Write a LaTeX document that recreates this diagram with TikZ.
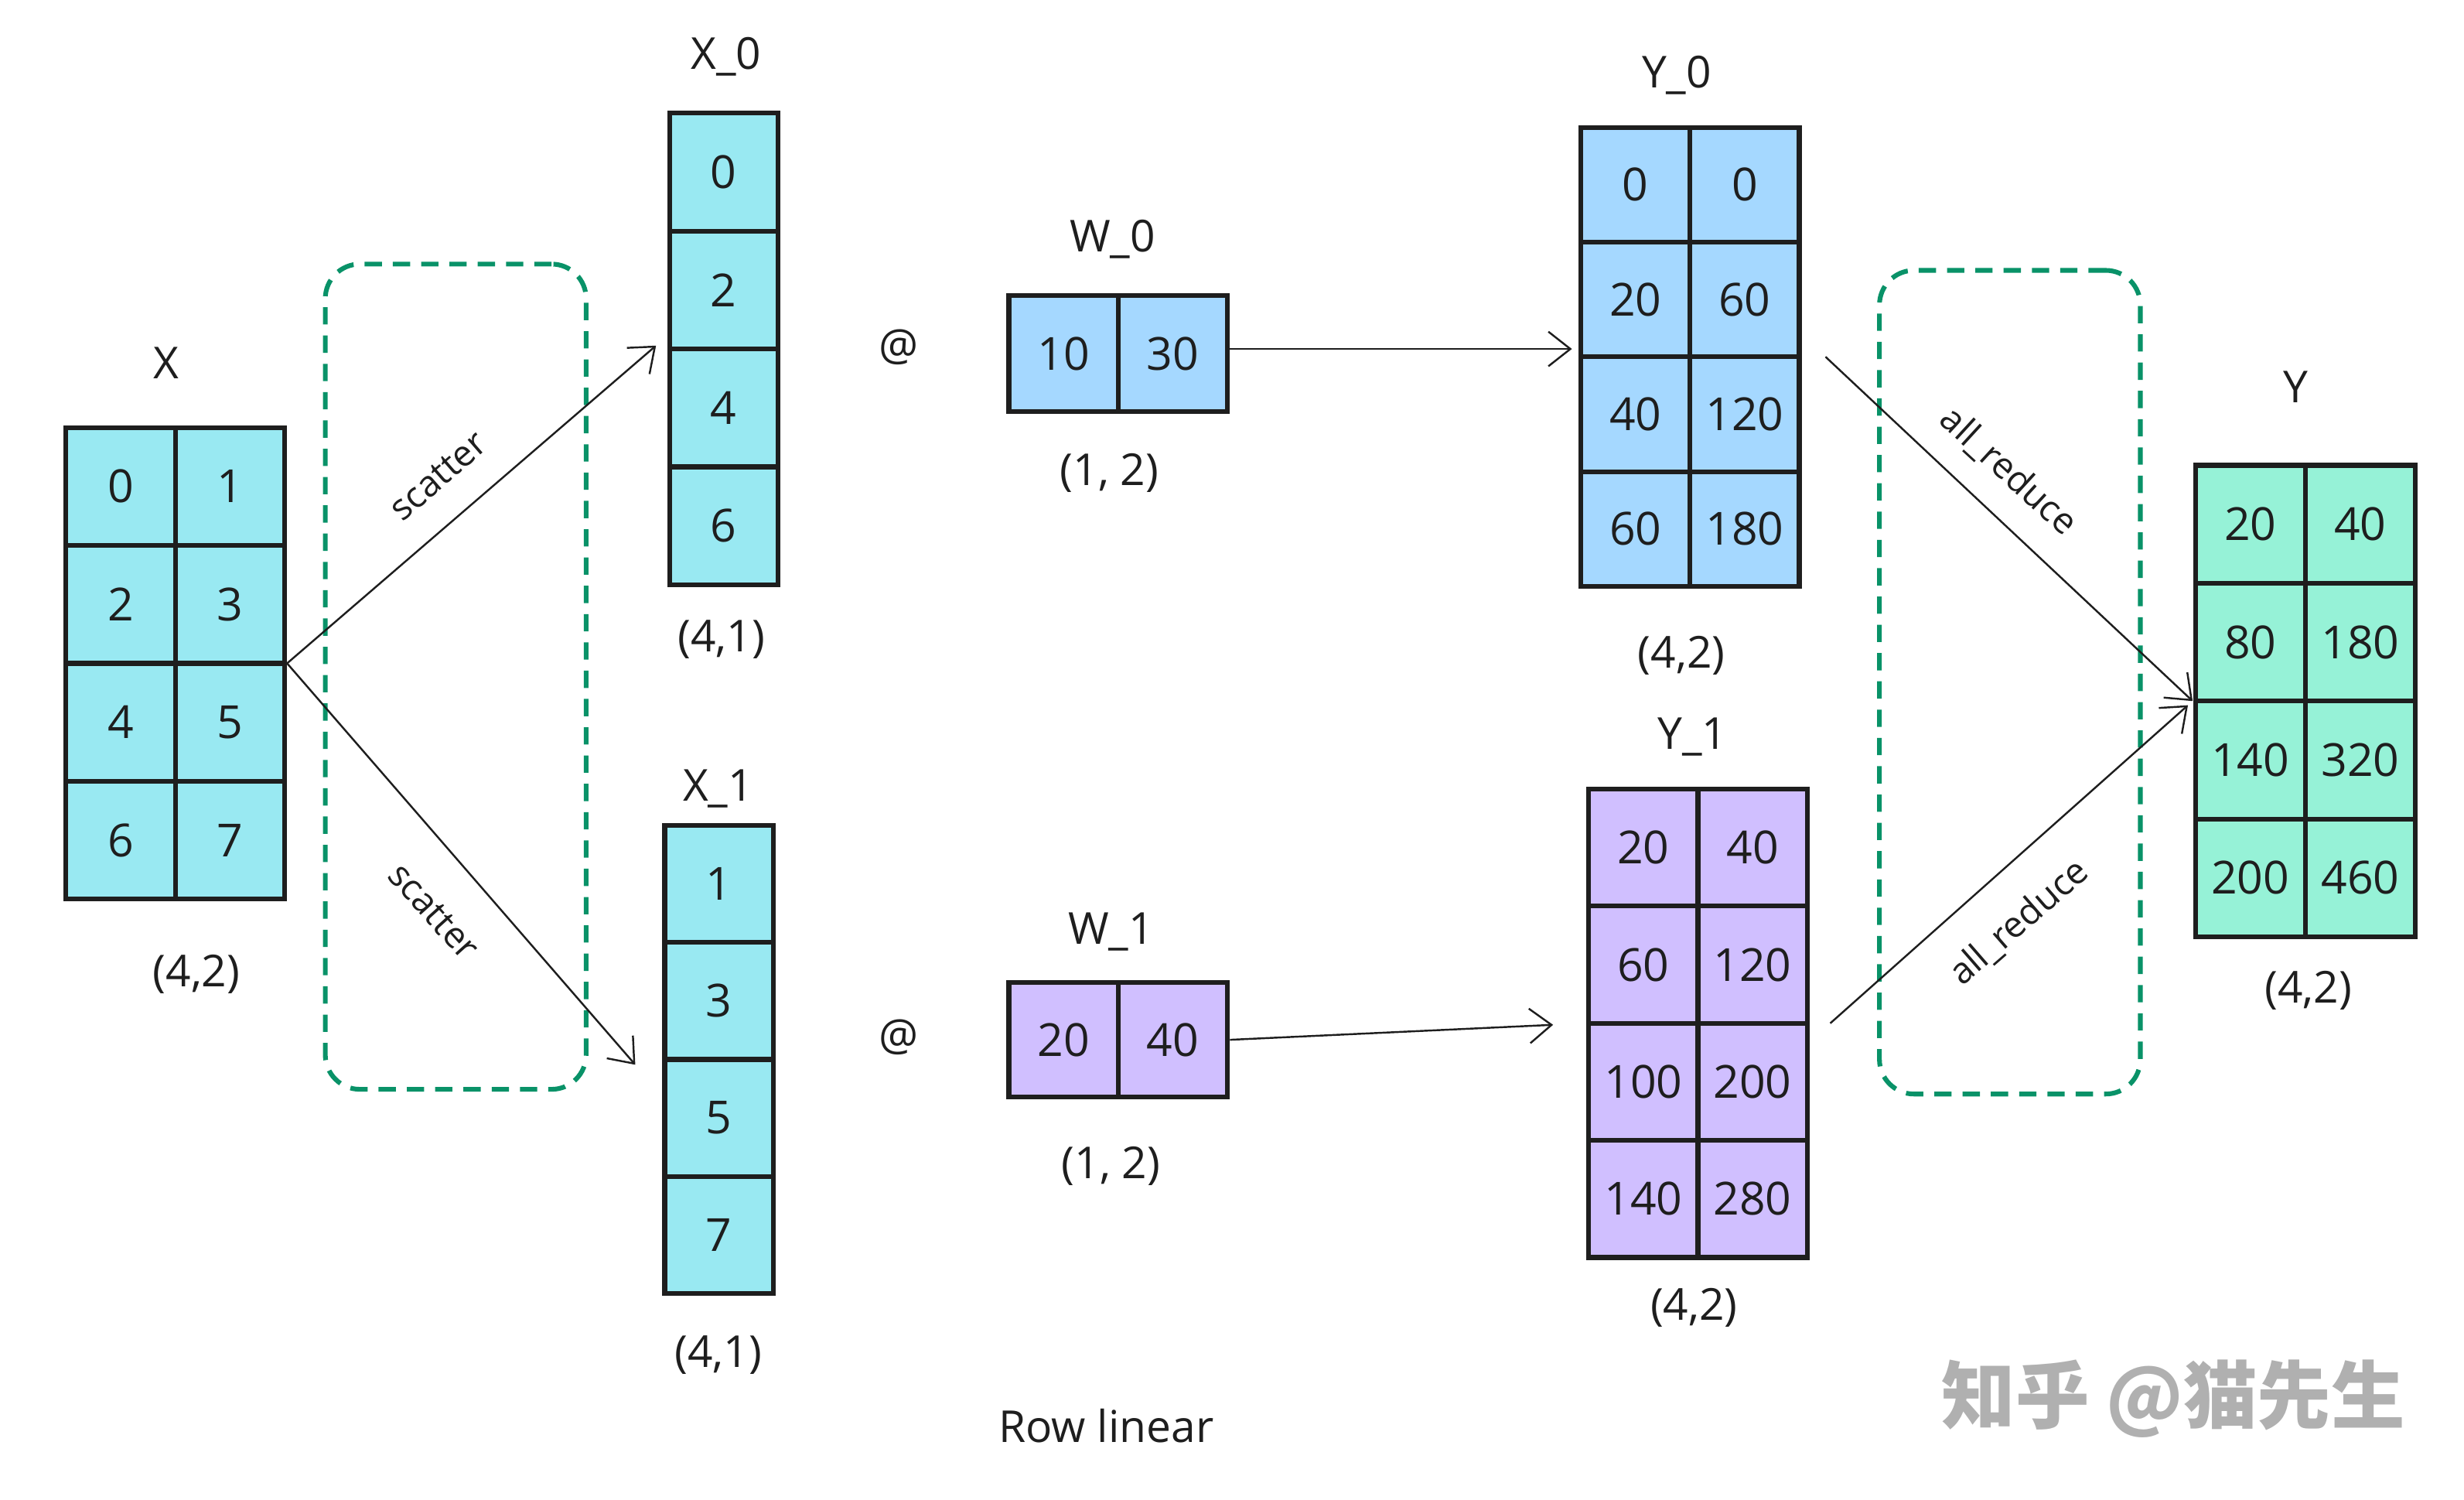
\documentclass[tikz,border=0pt]{standalone}
\usepackage{fontspec}
\setmainfont{Open Sans}
\newfontfamily\cjkwm{Noto Sans CJK SC}
\usetikzlibrary{arrows.meta,fit}
\definecolor{ink}{HTML}{1E1E1E}
\definecolor{cyanf}{HTML}{99E9F2}
\definecolor{bluef}{HTML}{A5D8FF}
\definecolor{violetf}{HTML}{D0BFFF}
\definecolor{mintf}{HTML}{96F2D7}
\definecolor{dashgreen}{HTML}{099268}
\definecolor{wmgray}{HTML}{B0B0B0}
\tikzset{
  cell/.style={draw=ink, line width=3pt, text=ink, inner sep=0pt,
    font=\fontsize{29}{32}\selectfont},
  lbl/.style={text=ink, inner sep=0pt, font=\fontsize{28}{32}\selectfont},
  rlbl/.style={text=ink, inner sep=0pt, font=\fontsize{23}{26}\selectfont},
  arr/.style={draw=ink, line width=1.2pt, -{Straight Barb[length=14pt,width=22pt]}},
  dbox/.style={draw=dashgreen, line width=3pt, dash pattern=on 11pt off 7pt,
    rounded corners=22pt, inner sep=0pt},
  wrap/.style={inner sep=0pt, draw=none},
}
\begin{document}
\begin{tikzpicture}[x=1pt,y=-1pt]
\useasboundingbox (0,0) rectangle (1568,953.8);

% ---------- X ----------
\foreach \a/\b [count=\i from 0] in {0/1,2/3,4/5,6/7}{
  \node[cell, fill=cyanf, minimum width=69.5pt, minimum height=75pt] (X-\i-0) at (76.75,{309.5+75*\i}) {\a};
  \node[cell, fill=cyanf, minimum width=69.5pt, minimum height=75pt] (X-\i-1) at (146.25,{309.5+75*\i}) {\b};
}
\node[wrap, fit=(X-0-0)(X-3-1)] (X) {};
\node[lbl] (Xt) at (106,231) {X};
\node[lbl] (Xs) at (125,620) {(4,2)};

% ---------- X_0 ----------
\foreach \a [count=\i from 0] in {0,2,4,6}{
  \node[cell, fill=cyanf, minimum width=69pt, minimum height=75pt] (X0-\i) at (460.5,{109.5+75*\i}) {\a};
}
\node[wrap, fit=(X0-0)(X0-3)] (X0) {};
\node[lbl] (X0t) at (462,36) {X\_0};
\node[lbl] (X0s) at (459,407) {(4,1)};

% ---------- X_1 ----------
\foreach \a [count=\i from 0] in {1,3,5,7}{
  \node[cell, fill=cyanf, minimum width=69pt, minimum height=74.5pt] (X1-\i) at (457.5,{562.25+74.5*\i}) {\a};
}
\node[wrap, fit=(X1-0)(X1-3)] (X1) {};
\node[lbl] (X1t) at (457,502) {X\_1};
\node[lbl] (X1s) at (457,862) {(4,1)};

% ---------- dashed groups ----------
\node[dbox, minimum width=166pt, minimum height=525pt] (g1) at (290,430.5) {};
\node[dbox, minimum width=166pt, minimum height=524pt] (g2) at (1279,434) {};

% ---------- @ ----------
\node[lbl] (at0) at (572,221) {@};
\node[lbl] (at1) at (572,660) {@};

% ---------- W_0 ----------
\node[cell, fill=bluef, minimum width=69.5pt, minimum height=74pt] (W0-0) at (676.75,225) {10};
\node[cell, fill=bluef, minimum width=69.5pt, minimum height=74pt] (W0-1) at (746.25,225) {30};
\node[wrap, fit=(W0-0)(W0-1)] (W0) {};
\node[lbl] (W0t) at (708,152) {W\_0};
\node[lbl] (W0s) at (706,301) {(1, 2)};

% ---------- W_1 ----------
\node[cell, fill=violetf, minimum width=69.5pt, minimum height=73pt] (W1-0) at (676.75,661.5) {20};
\node[cell, fill=violetf, minimum width=69.5pt, minimum height=73pt] (W1-1) at (746.25,661.5) {40};
\node[wrap, fit=(W1-0)(W1-1)] (W1) {};
\node[lbl] (W1t) at (707,593) {W\_1};
\node[lbl] (W1s) at (707,742) {(1, 2)};

% ---------- Y_0 ----------
\foreach \a/\b [count=\i from 0] in {0/0,20/60,40/120,60/180}{
  \node[cell, fill=bluef, minimum width=69.5pt, minimum height=73pt] (Y0-\i-0) at (1040.75,{117.5+73*\i}) {\a};
  \node[cell, fill=bluef, minimum width=69.5pt, minimum height=73pt] (Y0-\i-1) at (1110.25,{117.5+73*\i}) {\b};
}
\node[wrap, fit=(Y0-0-0)(Y0-3-1)] (Y0) {};
\node[lbl] (Y0t) at (1067,48) {Y\_0};
\node[lbl] (Y0s) at (1070,417) {(4,2)};

% ---------- Y_1 ----------
\foreach \a/\b [count=\i from 0] in {20/40,60/120,100/200,140/280}{
  \node[cell, fill=violetf, minimum width=69.5pt, minimum height=74.5pt] (Y1-\i-0) at (1045.75,{539.25+74.5*\i}) {\a};
  \node[cell, fill=violetf, minimum width=69.5pt, minimum height=74.5pt] (Y1-\i-1) at (1115.25,{539.25+74.5*\i}) {\b};
}
\node[wrap, fit=(Y1-0-0)(Y1-3-1)] (Y1) {};
\node[lbl] (Y1t) at (1077,469) {Y\_1};
\node[lbl] (Y1s) at (1078,832) {(4,2)};

% ---------- Y ----------
\foreach \a/\b [count=\i from 0] in {20/40,80/180,140/320,200/460}{
  \node[cell, fill=mintf, minimum width=70pt, minimum height=75pt] (Y-\i-0) at (1432,{333.5+75*\i}) {\a};
  \node[cell, fill=mintf, minimum width=70pt, minimum height=75pt] (Y-\i-1) at (1502,{333.5+75*\i}) {\b};
}
\node[wrap, fit=(Y-0-0)(Y-3-1)] (Y) {};
\node[lbl] (Yt) at (1461,246) {Y};
\node[lbl] (Ys) at (1469,630) {(4,2)};

% ---------- connectors ----------
\draw[arr, shorten >=9pt] (X.east) -- ([yshift=8pt]X0.west);
\draw[arr, shorten >=26pt] (X.east) -- ([yshift=-23pt]X1.west);
\draw[arr, shorten >=4pt] ([yshift=3pt]W0.east) -- ([yshift=5pt]Y0.west);
\draw[arr, shorten >=21pt] (W1.east) -- (Y1.west);
\draw[arr] ([xshift=15pt]Y0.east) -- (Y.west);
\draw[arr, shorten >=4pt] ([xshift=13pt]Y1.east) -- (Y.west);

% ---------- connector labels ----------
\node[rlbl, rotate=41] (sc0) at (279,303) {scatter};
\node[rlbl, rotate=-48] (sc1) at (276,580) {scatter};
\node[rlbl, rotate=-42.5] (ar0) at (1278,300) {all\_reduce};
\node[rlbl, rotate=41] (ar1) at (1285,587) {all\_reduce};

% ---------- caption & watermark ----------
\node[lbl] (cap) at (704,907) {Row linear};
\node[inner sep=0pt, text=wmgray, font=\cjkwm\bfseries\fontsize{47}{50}\selectfont] (wm) at (1383,890) {知乎 @猫先生};
\end{tikzpicture}
\end{document}
